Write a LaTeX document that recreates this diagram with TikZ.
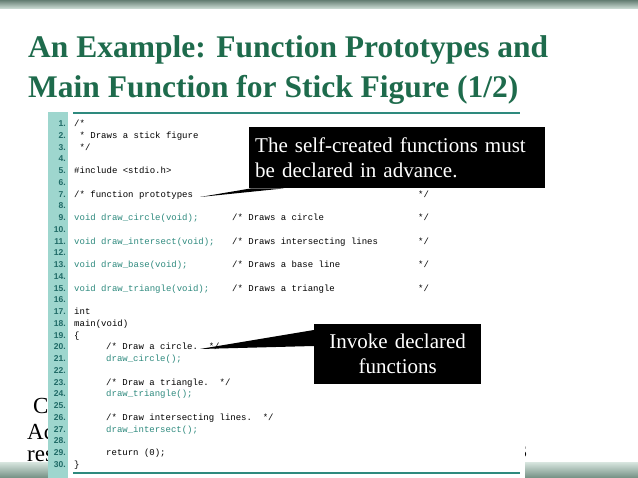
\documentclass[tikz,border=0pt]{standalone}
\usepackage{fontspec}
\setmainfont{Liberation Serif}
\newfontfamily\codefont{Liberation Mono}
\newfontfamily\numfont{Liberation Sans}
\definecolor{ttl}{HTML}{1E6B4C}
\definecolor{codeg}{HTML}{2E8A7E}
\definecolor{numbg}{HTML}{9ED6CE}
\definecolor{numfg}{HTML}{1F6A66}
\definecolor{band}{HTML}{8FB3A3}
\begin{document}
\begin{tikzpicture}[x=1pt,y=-1pt,
  code/.style={anchor=base west,inner sep=0pt,font=\codefont\fontsize{9}{10}\selectfont},
  num/.style={anchor=base east,inner sep=0pt,font=\numfont\bfseries\fontsize{8.5}{10}\selectfont,text=numfg},
  callout/.style={fill=black,text=white,font=\fontsize{21}{25}\selectfont,align=center,inner sep=0pt}]
\useasboundingbox (0,0) rectangle (638,478);
\fill[white] (0,0) rectangle (638,478);
\shade[top color=band!70!black,bottom color=band!40] (0,0) rectangle (638,9);
\shade[top color=band!40,bottom color=band!80!black] (0,463) rectangle (638,478);
\node[anchor=base west,inner sep=0pt,text=ttl,font=\bfseries\fontsize{31.5}{36}\selectfont] (t1) at (28,58) {An Example: Function Prototypes and};
\node[anchor=base west,inner sep=0pt,text=ttl,font=\bfseries\fontsize{31.5}{36}\selectfont] (t2) at (28,98) {Main Function for Stick Figure (1/2)};
% background slide text
\node[anchor=base west,inner sep=0pt,font=\fontsize{23}{26}\selectfont] (b1) at (33,414) {C};
\node[anchor=base west,inner sep=0pt,font=\fontsize{23}{26}\selectfont] (b2) at (27,440) {Ac};
\node[anchor=base west,inner sep=0pt,font=\fontsize{23}{26}\selectfont] (b3) at (27,462) {res};
\node[anchor=base west,inner sep=0pt,font=\fontsize{23}{26}\selectfont] (b4) at (518,458) {s};
% code panel
\fill[white] (48,112) rectangle (525,478);
\fill[numbg] (48,112) rectangle (68,478);
\draw[codeg,line width=1.2pt] (73,113) -- (520,113);
\draw[codeg,line width=1.2pt] (73,473) -- (520,473);
\foreach \i in {1,...,30} {\node[num] (n\i) at (66,{115+11.75*\i}) {\i.};}
\def\ly#1{{115+11.75*#1}}
\node[code] (c1) at (74,\ly{1}) {/*};
\node[code] (c2) at (74,\ly{2}) {\ * Draws a stick figure};
\node[code] (c3) at (74,\ly{3}) {\ */};
\node[code] (c5) at (74,\ly{5}) {\#include <stdio.h>};
\node[code] (c7) at (74,\ly{7}) {/* function prototypes};
\node[code] (e7) at (418,\ly{7}) {*/};
\foreach \l/\f/\c in {9/draw\_circle(void);/Draws a circle,11/draw\_intersect(void);/Draws intersecting lines,13/draw\_base(void);/Draws a base line,15/draw\_triangle(void);/Draws a triangle}{
  \node[code,text=codeg] (c\l) at (74,\ly{\l}) {void \f};
  \node[code] (m\l) at (232,\ly{\l}) {/* \c};
  \node[code] (e\l) at (418,\ly{\l}) {*/};
}
\node[code] (c17) at (74,\ly{17}) {int};
\node[code] (c18) at (74,\ly{18}) {main(void)};
\node[code] (c19) at (74,\ly{19}) {\{};
\node[code] (c20) at (106,\ly{20}) {/* Draw a circle.\ \ */};
\node[code,text=codeg] (c21) at (106,\ly{21}) {draw\_circle();};
\node[code] (c23) at (106,\ly{23}) {/* Draw a triangle.\ \ */};
\node[code,text=codeg] (c24) at (106,\ly{24}) {draw\_triangle();};
\node[code] (c26) at (106,\ly{26}) {/* Draw intersecting lines.\ \ */};
\node[code,text=codeg] (c27) at (106,\ly{27}) {draw\_intersect();};
\node[code] (c29) at (106,\ly{29}) {return (0);};
\node[code] (c30) at (74,\ly{30}) {\}};
% callouts
\node[callout,minimum width=296,minimum height=61,anchor=north west,align=left,text width=284] (k1) at (249,127) {The self-created functions must\\be declared in advance.};
\coordinate (p1) at (200,197);
\fill[black] (p1) -- ([xshift=2]k1.south west) -- ([xshift=35]k1.south west) -- cycle;
\node[callout,minimum width=167,minimum height=60,anchor=north west,text width=160] (k2) at (314,324) {Invoke declared\\functions};
\coordinate (p2) at (200,349);
\fill[black] (p2) -- ([yshift=-6]k2.north west) -- ([yshift=-22]k2.north west) -- cycle;
\end{tikzpicture}
\end{document}
